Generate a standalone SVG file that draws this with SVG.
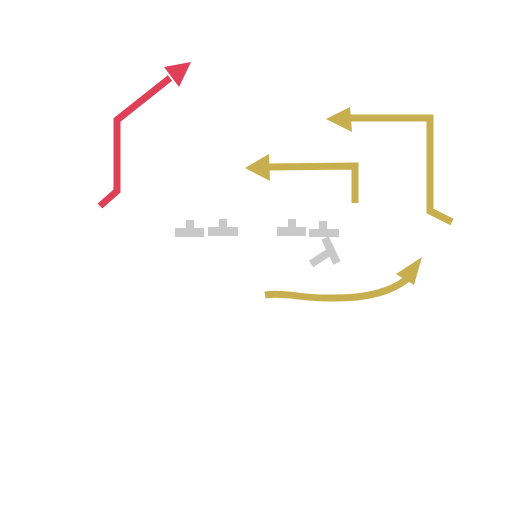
<svg xmlns="http://www.w3.org/2000/svg" width="512" height="512" viewBox="0 0 512 512">
<style>
.red{fill:none;stroke:#de4057;stroke-width:7;stroke-linejoin:miter}
.redh{fill:#de4057}
.gold{fill:none;stroke:#c7af4f;stroke-width:7;stroke-linejoin:miter}
.goldh{fill:#c7af4f}
.gray{fill:#c9c9c9}
.grayl{stroke:#c9c9c9;stroke-width:8;fill:none}
</style>
<rect width="512" height="512" fill="#ffffff"/>
<g id="node-t1"><rect class="gray" x="175" y="228" width="29" height="9"/><rect class="gray" x="186" y="220" width="8" height="9"/></g>
<g id="node-t2"><rect class="gray" x="208" y="227" width="30" height="9"/><rect class="gray" x="219" y="219" width="8" height="9"/></g>
<g id="node-t3"><rect class="gray" x="277" y="227" width="29" height="9"/><rect class="gray" x="288" y="219" width="8" height="9"/></g>
<g id="node-t4"><rect class="gray" x="309" y="229" width="30" height="8"/><rect class="gray" x="319" y="221" width="8" height="9"/></g>
<g id="node-t5"><line class="grayl" x1="325" y1="238" x2="337" y2="263"/><line class="grayl" x1="331" y1="251" x2="311" y2="264"/></g>
<g id="connectors">
<polyline class="red" points="100,206 117,191 117,120 170,78"/>
<polygon class="redh" points="191,62 164,67 179,87"/>
<polyline class="gold" points="452,222 430,211 430,118 350,118"/>
<polygon class="goldh" points="326,119 350,107 352,132"/>
<polyline class="gold" points="355,203 355,166 268,167"/>
<polygon class="goldh" points="245,168 269,154 270,181"/>
<path class="gold" d="M265,295 C285,292 300,298 325,298 C360,299 390,293 407,279"/>
<polygon class="goldh" points="422,257 396,274 414,285"/>
</g>
</svg>
